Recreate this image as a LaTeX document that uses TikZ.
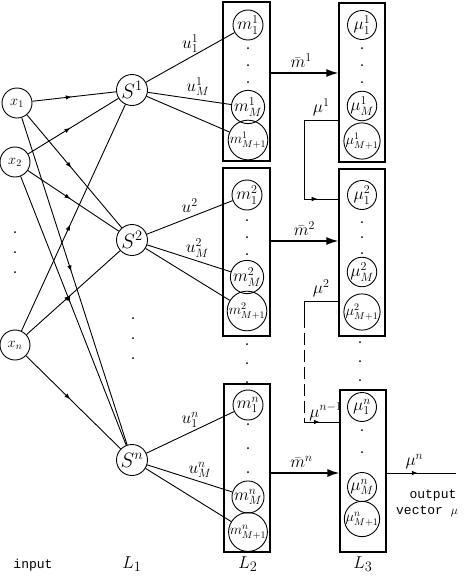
\documentclass[tikz,border=0pt]{standalone}
\usepackage{fontspec}
\newfontfamily\cour{Liberation Mono}
\usetikzlibrary{decorations.markings,arrows.meta}
\begin{document}
\begin{tikzpicture}[x=1pt,y=-1pt,line width=0.9pt,
  inp/.style={circle,draw,minimum size=30pt,inner sep=0pt,font=\fontsize{14}{14}\selectfont},
  snode/.style={circle,draw,minimum size=31pt,inner sep=0pt,font=\fontsize{20}{20}\selectfont},
  mnode/.style={circle,draw,minimum size=30pt,inner sep=0pt,font=\fontsize{18}{18}\selectfont},
  mpnode/.style={circle,draw,minimum size=30pt,inner sep=0pt,font=\fontsize{14}{14}\selectfont},
  munode/.style={circle,draw,minimum size=29pt,inner sep=0pt,font=\fontsize{18}{18}\selectfont},
  mupnode/.style={circle,draw,minimum size=29pt,inner sep=0pt,font=\fontsize{14}{14}\selectfont},
  layerbox/.style={draw,line width=1.3pt},
  dotnode/.style={circle,fill,inner sep=0pt,minimum size=2pt},
  midarrow/.style={postaction={decorate},decoration={markings,mark=at position #1 with {\arrow{Latex[length=6pt,width=4.5pt]}}}},
  bigarrow/.style={line width=1.4pt,-{Latex[length=12pt,width=8pt]}},
  elabel/.style={font=\fontsize{17}{17}\selectfont},
  llabel/.style={font=\fontsize{19}{19}\selectfont},
  txt/.style={font=\fontsize{13}{14}\cour}]
\useasboundingbox (0,0) rectangle (474,579);
% input nodes
\node[inp] (x1) at (17,103) {$x_1$};
\node[inp] (x2) at (15,162) {$x_2$};
\node[inp] (xn) at (15,345) {$x_n$};
\foreach \y [count=\i] in {232,252,272} \node[dotnode] (xd\i) at (15,\y) {};
% S nodes
\node[snode] (S1) at (132,90) {$S^1$};
\node[snode] (S2) at (132,240) {$S^2$};
\node[snode] (Sn) at (132,460) {$S^n$};
\foreach \y [count=\i] in {318,338,358} \node[dotnode] (sd\i) at (133,\y) {};
% input edges
\foreach \a in {x1,x2,xn}
  \foreach \b in {S1,S2,Sn}
    \draw[midarrow=0.47] (\a) -- (\b);
% L2 boxes
\node[layerbox,minimum width=47pt,minimum height=159pt,inner sep=0pt] (B1) at (246.5,81.5) {};
\node[layerbox,minimum width=47pt,minimum height=168pt,inner sep=0pt] (B2) at (246.5,252) {};
\node[layerbox,minimum width=46pt,minimum height=168pt,inner sep=0pt] (Bn) at (247,468) {};
% L3 boxes
\node[layerbox,minimum width=46pt,minimum height=159pt,inner sep=0pt] (C1) at (362,82.5) {};
\node[layerbox,minimum width=46pt,minimum height=167pt,inner sep=0pt] (C2) at (362,252.5) {};
\node[layerbox,minimum width=46pt,minimum height=162pt,inner sep=0pt] (Cn) at (363,471) {};
% L2 circles
\node[mnode] (m11) at (248,25) {$m_1^1$};
\node[mnode] (m1M) at (248,107) {$m_M^1$};
\node[mpnode] (m1P) at (248,140) {$m_{M+1}^1$};
\foreach \y [count=\i] in {48,65,82} \node[dotnode] (m1d\i) at (248,\y) {};
\node[mnode] (m21) at (247,195) {$m_1^2$};
\node[mnode] (m2M) at (247,277) {$m_M^2$};
\node[mpnode] (m2P) at (247,311) {$m_{M+1}^2$};
\foreach \y [count=\i] in {220,237,254} \node[dotnode] (m2d\i) at (247,\y) {};
\node[mnode] (mn1) at (248,405) {$m_1^n$};
\node[mnode] (mnM) at (248,497) {$m_M^n$};
\node[mpnode] (mnP) at (248,532) {$m_{M+1}^n$};
\foreach \y [count=\i] in {424,448,472} \node[dotnode] (mnd\i) at (248,\y) {};
\foreach \y [count=\i] in {344,363,382} \node[dotnode] (bd\i) at (247,\y) {};
% L3 circles
\node[munode] (u11) at (362,25) {$\mu_1^1$};
\node[munode] (u1M) at (362,106) {$\mu_M^1$};
\node[mupnode] (u1P) at (362,141) {$\mu_{M+1}^1$};
\foreach \y [count=\i] in {48,65,82} \node[dotnode] (u1d\i) at (362,\y) {};
\node[munode] (u21) at (362,195) {$\mu_1^2$};
\node[munode] (u2M) at (362,272) {$\mu_M^2$};
\node[mupnode] (u2P) at (362,312) {$\mu_{M+1}^2$};
\foreach \y [count=\i] in {222,237,253} \node[dotnode] (u2d\i) at (362,\y) {};
\node[munode] (un1) at (362,407) {$\mu_1^n$};
\node[munode] (unM) at (362,487) {$\mu_M^n$};
\node[mupnode] (unP) at (362,519) {$\mu_{M+1}^n$};
\foreach \y [count=\i] in {430,452} \node[dotnode] (und\i) at (362,\y) {};
\foreach \y [count=\i] in {342,361,380} \node[dotnode] (cd\i) at (360,\y) {};
% S to L2 edges
\draw (S1) -- node[elabel,above,pos=0.5,yshift=1pt] {$u_1^1$} (m11);
\draw (S1) -- node[elabel,above,pos=0.6] {$u_M^1$} (m1M);
\draw (S1) -- (m1P);
\draw (S2) -- node[elabel,above,pos=0.5,yshift=1pt] {$u^2$} (m21);
\draw (S2) -- node[elabel,above,pos=0.6] {$u_M^2$} (m2M);
\draw (S2) -- (m2P);
\draw (Sn) -- node[elabel,above,pos=0.5,yshift=1pt] {$u_1^n$} (mn1);
\draw (Sn) -- node[elabel,above,pos=0.62] {$u_M^n$} (mnM);
\draw (Sn) -- (mnP);
% L2 to L3 arrows
\coordinate (a1s) at (B1.east |- 0,73);
\coordinate (a1e) at (C1.west |- 0,73);
\draw[bigarrow] (a1s) -- node[elabel,above,pos=0.45,yshift=1pt] {$\bar{m}^1$} (a1e);
\coordinate (a2s) at (B2.east |- 0,241);
\coordinate (a2e) at (C2.west |- 0,241);
\draw[bigarrow] (a2s) -- node[elabel,above,pos=0.5,yshift=1pt] {$\bar{m}^2$} (a2e);
\coordinate (ans) at (Bn.east |- 0,473);
\coordinate (ane) at (Cn.west |- 0,473);
\draw[bigarrow] (ans) -- node[elabel,above,pos=0.45,yshift=1pt] {$\bar{m}^n$} (ane);
% feedback lines
\coordinate (f1a) at (C1.west |- 0,120);
\coordinate (f1b) at (304,120);
\coordinate (f1c) at (304,199);
\coordinate (f1d) at (C2.west |- 0,199);
\draw (f1a) -- node[elabel,above,pos=0.5] {$\mu^1$} (f1b) -- (f1c);
\draw[midarrow=0.4] (f1c) -- (f1d);
\coordinate (f2a) at (C2.west |- 0,301);
\coordinate (f2b) at (304,301);
\coordinate (f2c) at (304,316);
\coordinate (f2d) at (304,422);
\coordinate (f2e) at (Cn.west |- 0,422);
\draw (f2a) -- node[elabel,above,pos=0.5] {$\mu^2$} (f2b) -- (f2c);
\draw[dashed,dash pattern=on 12pt off 5pt] (f2c) -- (f2d);
\draw[midarrow=0.45] (f2d) -- node[elabel,above,pos=0.62,inner sep=1pt] {$\mu^{n-1}$} (f2e);
% output
\coordinate (os) at (Cn.east |- 0,473);
\coordinate (oe) at (456,473);
\draw[midarrow=0.45] (os) -- node[elabel,above,pos=0.4] {$\mu^n$} (oe);
\node[txt] (out1) at (433,496) {output};
\node[txt] (out2) at (427,511) {vector $\mu$};
% bottom labels
\node[txt] (inlab) at (33,565) {input};
\node[llabel] (L1) at (132,564) {$L_1$};
\node[llabel] (L2) at (248,564) {$L_2$};
\node[llabel] (L3) at (363,564) {$L_3$};
\end{tikzpicture}
\end{document}
